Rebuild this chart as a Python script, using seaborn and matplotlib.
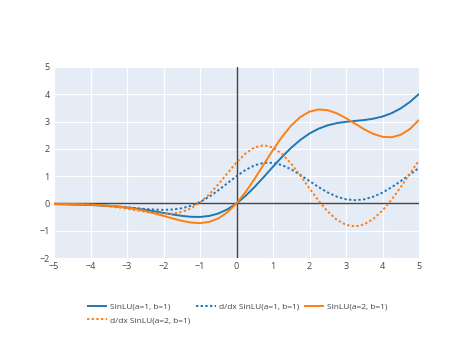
import numpy as np
import pandas as pd
import matplotlib
matplotlib.use("Agg")
import matplotlib.pyplot as plt
import seaborn as sns

x_vals = [-5, -4.75, -4.5, -4.25, -4, -3.75, -3.5, -3.25, -3, -2.75, -2.5, -2.25, -2, -1.75,
          -1.5, -1.25, -1, -0.75, -0.5, -0.25, 0, 0.25, 0.5, 0.75, 1, 1.25, 1.5, 1.75, 2,
          2.25, 2.5, 2.75, 3, 3.25, 3.5, 3.75, 4, 4.25, 4.5, 4.75, 5]

sinlu_a1 = [-0.0271, -0.0322, -0.0387, -0.0472, -0.0583, -0.0730, -0.0923, -0.1173, -0.1490,
            -0.1882, -0.2351, -0.2887, -0.3468, -0.4048, -0.4556, -0.4897, -0.4953, -0.4593,
            -0.3698, -0.2178, 0.0, 0.2796, 0.6097, 0.9724, 1.3462, 1.7093, 2.0419, 2.3292,
            2.5625, 2.7394, 2.8634, 2.9435, 2.9922, 3.0245, 3.0569, 3.1054, 3.1849, 3.3078,
            3.4838, 3.7185, 4.0140]

dsinlu_a1 = [-0.0183, -0.0230, -0.0296, -0.0387, -0.0511, -0.0672, -0.0877, -0.1127, -0.1414,
             -0.1723, -0.2021, -0.2257, -0.2359, -0.2232, -0.1772, -0.0877, 0.0522, 0.2436,
             0.4787, 0.7396, 1.0, 1.2293, 1.3989, 1.4881, 1.4881, 1.4031, 1.2479, 1.0449,
             0.8197, 0.5976, 0.4010, 0.2480, 0.1514, 0.1186, 0.1513, 0.2467, 0.3974, 0.5926,
             0.8188, 1.0606, 1.3019]

sinlu_a2 = [-0.0206, -0.0236, -0.0280, -0.0346, -0.0447, -0.0599, -0.0820, -0.1132, -0.1557,
            -0.2111, -0.2804, -0.3629, -0.4552, -0.5504, -0.6376, -0.7011, -0.7216, -0.6780,
            -0.5508, -0.3261, 0.0, 0.4187, 0.9081, 1.4353, 1.9614, 2.4469, 2.8574, 3.1675,
            3.3634, 3.4432, 3.4165, 3.3022, 3.1266, 2.9204, 2.7164, 2.5470, 2.4417, 2.4254,
            2.5170, 2.7278, 3.0615]

dsinlu_a2 = [-0.0100, -0.0142, -0.0213, -0.0326, -0.0494, -0.0733, -0.1052, -0.1459, -0.1948,
             -0.2494, -0.3049, -0.3528, -0.3809, -0.3737, -0.3130, -0.1818, 0.0321, 0.3298,
             0.6974, 1.1029, 1.5, 1.8349, 2.0578, 2.1336, 2.0485, 1.8124, 1.4545, 1.0172,
             0.5486, 0.0964, -0.2974, -0.5992, -0.7852, -0.8424, -0.7677, -0.5679, -0.2578,
             0.1404, 0.5997, 1.0894, 1.5773]

series_names = ["SinLU(a=1, b=1)", "d/dx SinLU(a=1, b=1)", "SinLU(a=2, b=1)", "d/dx SinLU(a=2, b=1)"]
series_values = [sinlu_a1, dsinlu_a1, sinlu_a2, dsinlu_a2]
series_colors = ["#1f77b4", "#1f77b4", "#ff7f0e", "#ff7f0e"]
series_dotted = [False, True, False, True]

x_ticks = [-5, -4, -3, -2, -1, 0, 1, 2, 3, 4, 5]
y_ticks = [-2, -1, 0, 1, 2, 3, 4, 5]

sns.set_theme(style="white")
plt.rcParams["font.family"] = ["Open Sans", "DejaVu Sans"]
plt.rcParams["axes.unicode_minus"] = True

fig = plt.figure(figsize=(4.74, 3.38), dpi=100)
ax = fig.add_axes([54 / 474, 1 - 258 / 338, (419 - 54) / 474, (258 - 67) / 338])
ax.set_facecolor("#E5ECF6")

ax.axhline(0, color="#444444", lw=1.0, zorder=1.5)
ax.axvline(0, color="#444444", lw=1.0, zorder=1.5)

handles = []
for name, vals, col, dotted in zip(series_names, series_values, series_colors, series_dotted):
    df = pd.DataFrame({"x": x_vals, "y": vals})
    sns.lineplot(data=df, x="x", y="y", ax=ax, color=col, lw=1.4, label=name, legend=False, zorder=3)
    ln = ax.lines[-1]
    if dotted:
        ln.set_linestyle((0, (1.2, 1.2)))
    ln.set_solid_capstyle("butt")
    handles.append(ln)

ax.set_xlim(-5, 5)
ax.set_ylim(-2, 5)
ax.set_xticks(x_ticks)
ax.set_yticks(y_ticks)
ax.set_xticklabels([f"{t}".replace("-", "\u2212") for t in x_ticks])
ax.set_yticklabels([f"{t}".replace("-", "\u2212") for t in y_ticks])
ax.grid(True, color="white", lw=0.8)
ax.set_axisbelow(True)
for s in ax.spines.values():
    s.set_visible(False)
ax.tick_params(axis="both", length=0, labelsize=6.5, colors="#444444", pad=3)
ax.set_xlabel("")
ax.set_ylabel("")

order = [0, 3, 1, 2]
leg = fig.legend([handles[i] for i in order], [series_names[i] for i in order],
                 ncol=3, loc="upper left", bbox_to_anchor=(87 / 474, 1 - 303 / 338),
                 frameon=False, fontsize=6, handlelength=2.4, handletextpad=0.4,
                 columnspacing=0.6, labelspacing=0.65, borderpad=0, borderaxespad=0)
for t in leg.get_texts():
    t.set_color("#444444")

fig.savefig("out.png", dpi=100)
